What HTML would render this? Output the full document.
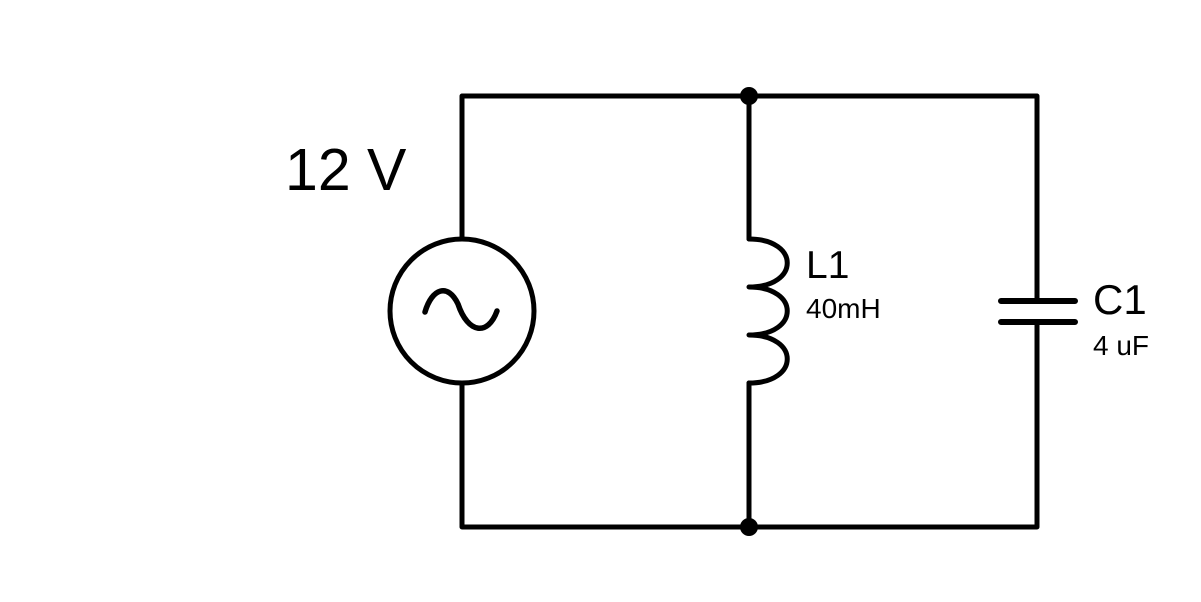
<!DOCTYPE html>
<html><head><meta charset="utf-8"><style>body{margin:0;background:#fff}svg{display:block}</style></head>
<body>
<svg width="1201" height="602" viewBox="0 0 1201 602" xmlns="http://www.w3.org/2000/svg">
<g fill="none" stroke="#000" stroke-width="5" stroke-linecap="round" stroke-linejoin="round">
<path d="M462 239 V96 H1037 V301"/>
<path d="M462 383 V527 H1037 V322"/>
<path d="M749 96 V239"/>
<path d="M749 383 V527"/>
<circle cx="462" cy="311" r="72"/>
<path d="M425 312 C432 288 448 283 458 304 C468 334 488 336 497 311" stroke-width="5.5"/>
<path d="M749 239 C800 239 800 287 749 287 C800 287 800 335 749 335 C800 335 800 383 749 383"/>
<path d="M1001 301 H1075 M1001 322 H1075" stroke-width="6"/>
</g>
<circle cx="749" cy="96" r="9"/>
<circle cx="749" cy="527" r="9"/>
<g font-family="Liberation Sans, sans-serif" fill="#000">
<text x="285" y="190" font-size="59">12 V</text>
<text x="806" y="278" font-size="39">L1</text>
<text x="806" y="318" font-size="28">40mH</text>
<text x="1093" y="314" font-size="42">C1</text>
<text x="1093" y="355" font-size="28">4 uF</text>
</g>
</svg>
</body></html>
